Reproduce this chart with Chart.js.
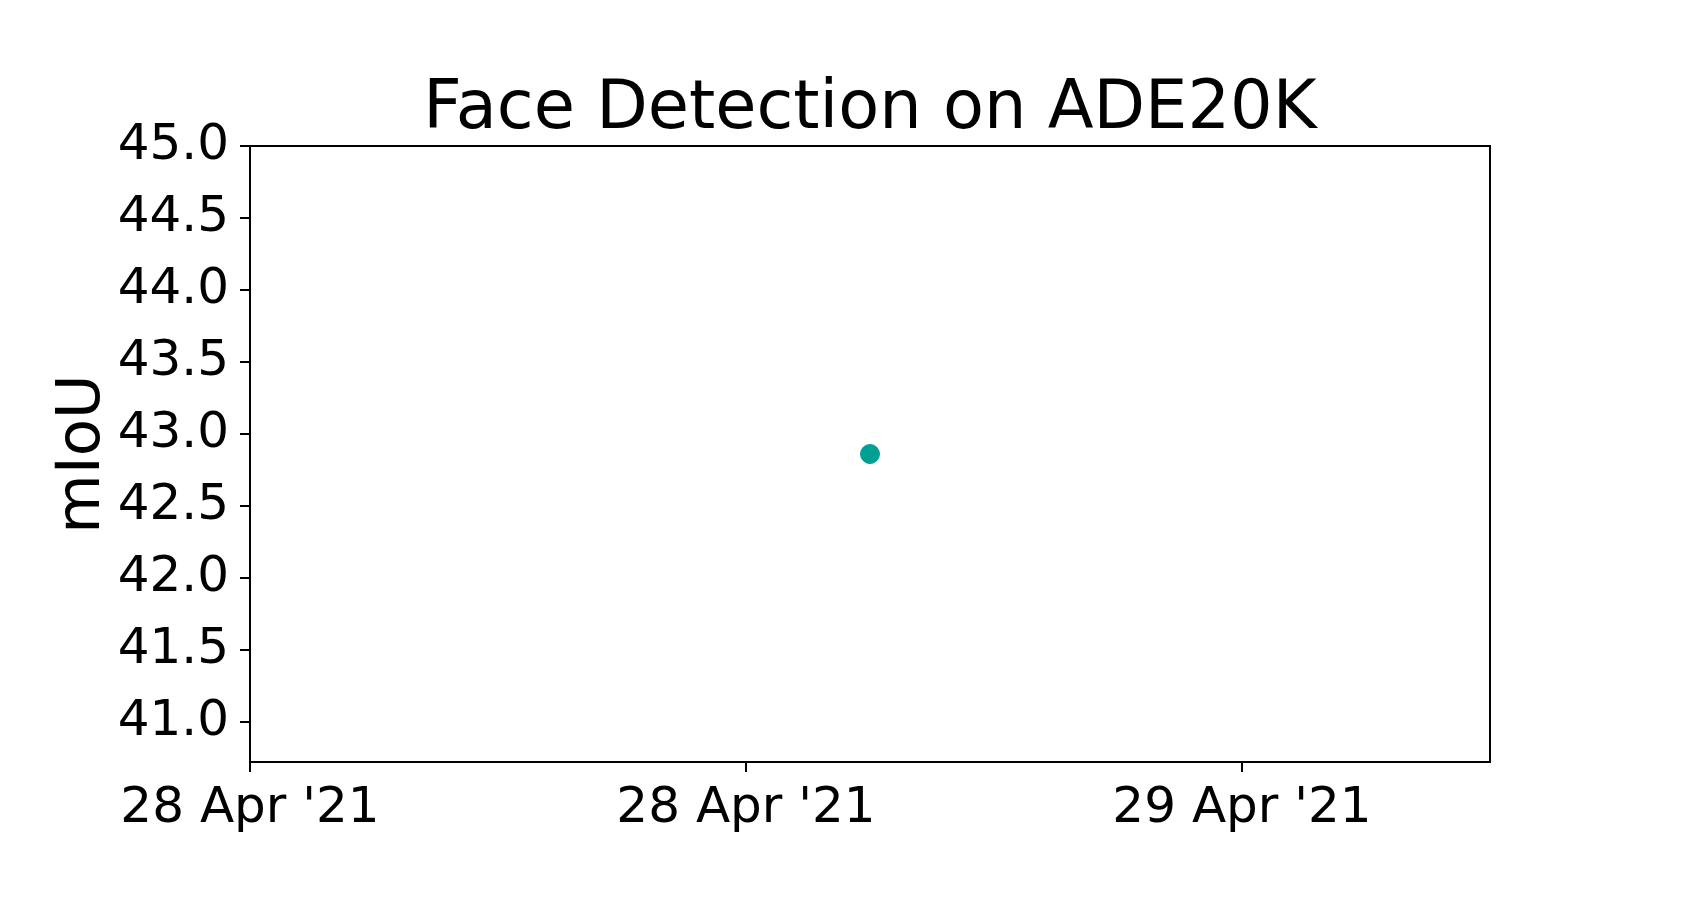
<!DOCTYPE html>
<html>
<head>
<meta charset="utf-8">
<script src="https://cdn.jsdelivr.net/npm/chart.js@4.4.1/dist/chart.umd.min.js"></script>
<style>
  html, body { margin: 0; padding: 0; background: #fff; }
  #wrap { width: 1700px; height: 900px; }
</style>
</head>
<body>
<div id="wrap"><canvas id="chart" width="1700" height="900"></canvas></div>
<script>
// data
const pointDates = [Date.UTC(2021, 3, 28, 15)];
const pointValues = [42.86];
const xTickTimes = [Date.UTC(2021, 3, 28, 0), Date.UTC(2021, 3, 28, 12), Date.UTC(2021, 3, 29, 0)];
const xTickLabels = ["28 Apr '21", "28 Apr '21", "29 Apr '21"];
const yTicks = [41.0, 41.5, 42.0, 42.5, 43.0, 43.5, 44.0, 44.5, 45.0];

const xMin = Date.UTC(2021, 3, 28, 0);
const xMax = Date.UTC(2021, 3, 29, 6);

Chart.defaults.font.family = "'DejaVu Sans', sans-serif";
Chart.defaults.color = "#000";

// full box around the plot
const frame = {
  id: "frame",
  afterDraw(chart) {
    const { ctx, chartArea: a } = chart;
    ctx.save();
    ctx.strokeStyle = "#000";
    ctx.lineWidth = 2;
    ctx.strokeRect(a.left, a.top, a.right - a.left, a.bottom - a.top);
    ctx.restore();
  },
};

new Chart(document.getElementById("chart"), {
  type: "scatter",
  data: {
    datasets: [
      {
        label: "mIoU",
        data: pointDates.map((d, i) => ({ x: d, y: pointValues[i] })),
        backgroundColor: "#009f93",
        borderColor: "#009f93",
        pointRadius: 9.5,
        pointHoverRadius: 9.5,
      },
    ],
  },
  options: {
    responsive: false,
    devicePixelRatio: 1,
    animation: false,
    events: [],
    layout: { padding: { left: 0, right: 210, top: 0, bottom: 0 } },
    plugins: {
      legend: { display: false },
      tooltip: { enabled: false },
      title: {
        display: true,
        fullSize: false,
        text: "Face Detection on ADE20K",
        font: { size: 67, weight: "normal", lineHeight: 1.0 },
        color: "#000",
        padding: { top: 77, bottom: 2 },
      },
    },
    scales: {
      x: {
        type: "linear",
        min: xMin,
        max: xMax,
        afterBuildTicks: (s) => { s.ticks = xTickTimes.map((v) => ({ value: v })); },
        afterFit: (s) => { s.height = 138; },
        ticks: {
          font: { size: 50 },
          padding: 7,
          maxRotation: 0,
          autoSkip: false,
          callback: (v, i) => xTickLabels[i],
        },
        grid: { drawOnChartArea: false, tickLength: 10, color: "#000", lineWidth: 2 },
        border: { display: true, color: "#000", width: 2 },
      },
      y: {
        min: 40.72,
        max: 45.0,
        afterBuildTicks: (s) => { s.ticks = yTicks.map((v) => ({ value: v })); },
        afterFit: (s) => { s.width = 250; },
        ticks: {
          font: { size: 50 },
          padding: 11,
          callback: (v) => Number(v).toFixed(1),
        },
        grid: { drawOnChartArea: false, tickLength: 10, color: "#000", lineWidth: 2 },
        border: { display: true, color: "#000", width: 2 },
        title: {
          display: true,
          text: "mIoU",
          font: { size: 61 },
          padding: { top: 47, bottom: 0 },
        },
      },
    },
  },
  plugins: [frame],
});
</script>
</body>
</html>
